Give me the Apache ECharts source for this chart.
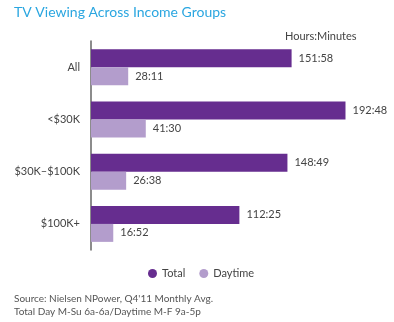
<!DOCTYPE html>
<html>
<head>
<meta charset="utf-8">
<script src="https://cdn.jsdelivr.net/npm/echarts@6/dist/echarts.min.js"></script>
<style>
  html, body { margin: 0; padding: 0; background: #fff; }
  #chart { width: 394px; height: 322px; }
</style>
</head>
<body>
<div id="chart"></div>
<script>
// income groups, top to bottom
const categories = ['All', '<$30K', '$30K–$100K', '$100K+']
// viewing time in minutes (hours:minutes in the labels)
const totalMinutes = [9118, 11568, 8929, 6745]      // 151:58, 192:48, 148:49, 112:25
const daytimeMinutes = [1691, 2490, 1598, 1012]     // 28:11, 41:30, 26:38, 16:52
const seriesNames = ['Total', 'Daytime']

const fmt = (v) => {
  const h = Math.floor(v / 60)
  const m = v % 60
  return h + ':' + (m < 10 ? '0' + m : m)
}

const font = 'Lato, "Open Sans", sans-serif'
const chart = echarts.init(document.getElementById('chart'))

chart.setOption({
  animation: false,
  textStyle: { fontFamily: font },
  title: [
    {
      text: 'TV Viewing Across Income Groups',
      left: 9,
      top: 0,
      textStyle: { color: '#2aa6e0', fontSize: 14, fontWeight: 'normal', fontFamily: font }
    },
    {
      text: 'Hours:Minutes',
      left: 280,
      top: 26,
      textStyle: { color: '#444', fontSize: 11, fontWeight: 'normal', fontFamily: font }
    },
    {
      text: 'Source: Nielsen NPower, Q4\'11 Monthly Avg.\nTotal Day M-Su 6a-6a/Daytime M-F 9a-5p',
      left: 9,
      top: 287,
      textStyle: { color: '#555', fontSize: 10, fontWeight: 'normal', lineHeight: 13, fontFamily: font }
    }
  ],
  legend: {
    data: seriesNames,
    left: 143,
    top: 263,
    icon: 'circle',
    itemWidth: 9,
    itemHeight: 9,
    itemGap: 14,
    textStyle: { color: '#444', fontSize: 11 }
  },
  grid: { left: 91, top: 41, width: 264, bottom: 72 },
  xAxis: {
    type: 'value',
    min: 0,
    max: 12000,
    show: false
  },
  yAxis: {
    type: 'category',
    data: categories,
    inverse: true,
    axisLine: { lineStyle: { color: '#666', width: 1.5 } },
    axisTick: { length: 4, lineStyle: { color: '#444', width: 1.5 } },
    axisLabel: { color: '#444', fontSize: 11, margin: 11 }
  },
  series: [
    {
      name: seriesNames[0],
      type: 'bar',
      data: totalMinutes,
      barWidth: 18,
      barGap: '0%',
      itemStyle: { color: '#662d8f' },
      label: { show: true, position: 'right', distance: 7, color: '#444', fontSize: 11, formatter: (p) => fmt(p.value) }
    },
    {
      name: seriesNames[1],
      type: 'bar',
      data: daytimeMinutes,
      barWidth: 18,
      itemStyle: { color: '#b39dcc' },
      label: { show: true, position: 'right', distance: 7, color: '#444', fontSize: 11, formatter: (p) => fmt(p.value) }
    }
  ]
})
</script>
</body>
</html>
